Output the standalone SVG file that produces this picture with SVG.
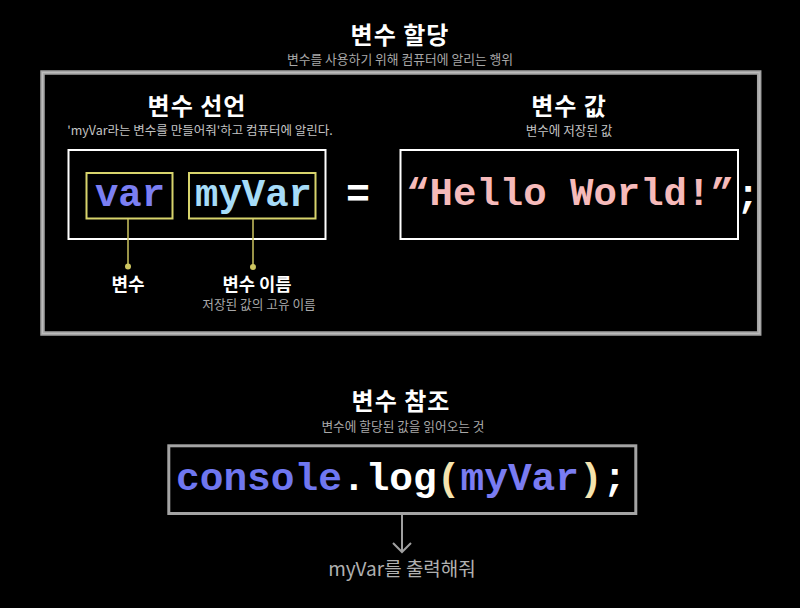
<svg xmlns="http://www.w3.org/2000/svg" width="800" height="608" viewBox="0 0 800 608">
<style>
.ttl{font-family:"Noto Sans CJK KR","Noto Sans",sans-serif;font-weight:700;fill:#ffffff;text-anchor:middle}
.big{font-size:24px;letter-spacing:1px}
.sub{font-family:"Noto Sans CJK KR","Noto Sans",sans-serif;font-weight:400;fill:#a8a8a8;text-anchor:middle}
.lite{fill:#c4c4c4}
.code{font-family:"Liberation Mono","DejaVu Sans Mono",monospace;font-weight:700}
.wbox{fill:none;stroke:#ffffff;stroke-width:2}
.ybox{fill:none;stroke:#d8d46c;stroke-width:2}
.gbox{fill:none;stroke:#a4a4a4}
.lead{stroke:#cdc560;stroke-width:1.5;fill:none}
</style>
<rect x="0" y="0" width="800" height="608" fill="#000000"/>

<g id="title-assign">
<text class="ttl big" x="400" y="44">변수 할당</text>
<text class="sub" x="400" y="64" font-size="12.8">변수를 사용하기 위해 컴퓨터에 알리는 행위</text>
</g>

<g id="frame-assign">
<rect class="gbox" x="42.5" y="72.5" width="716.7" height="261" stroke-width="4.5"/>
<rect x="42.5" y="72.5" width="716.7" height="261" fill="none" stroke="#bcbcbc" stroke-width="1.2"/>
</g>

<g id="declaration">
<text class="ttl big" x="197" y="115">변수 선언</text>
<text class="sub lite" x="200" y="135" font-size="12.5">'myVar라는 변수를 만들어줘'하고 컴퓨터에 알린다.</text>
<rect class="wbox" x="68.5" y="150" width="257" height="89"/>
</g>

<g id="kw-var">
<rect class="ybox" x="86.5" y="173" width="86" height="45.5"/>
<text class="code" x="130" y="206" font-size="39" fill="#7b7ff2" text-anchor="middle">var</text>
</g>

<g id="name-myVar">
<rect class="ybox" x="189" y="173" width="126.5" height="45.5"/>
<text class="code" x="253.5" y="206" font-size="39" fill="#a6dcf8" text-anchor="middle">myVar</text>
</g>

<g id="equals">
<text class="code" x="358" y="207" font-size="40" fill="#ffffff" text-anchor="middle">=</text>
</g>

<g id="value">
<text class="ttl big" x="569" y="115">변수 값</text>
<text class="sub lite" x="569" y="135" font-size="12.6">변수에 저장된 값</text>
<rect class="wbox" x="400.5" y="150" width="337.5" height="89"/>
<text class="code" x="570" y="205" font-size="39" fill="#f6baba" text-anchor="middle">“Hello World!”</text>
</g>

<g id="semicolon1">
<text class="code" x="748" y="207" font-size="39" fill="#ffffff" text-anchor="middle">;</text>
</g>

<g id="label-var">
<text class="ttl" x="128" y="291" font-size="18">변수</text>
</g>

<g id="label-name">
<text class="ttl" x="257" y="291" font-size="17.7">변수 이름</text>
<text class="sub" x="259" y="309" font-size="12.7">저장된 값의 고유 이름</text>
</g>

<g id="connectors">
<line class="lead" x1="128" y1="219" x2="128" y2="266"/>
<circle cx="128" cy="266.5" r="3" fill="#cdc560"/>
<line class="lead" x1="253" y1="219" x2="253" y2="266"/>
<circle cx="253" cy="267" r="3" fill="#cdc560"/>
<line x1="402" y1="515" x2="402" y2="552" stroke="#a0a0a0" stroke-width="2"/>
<polyline points="393,543 402,552 411,543" fill="none" stroke="#a0a0a0" stroke-width="2"/>
</g>

<g id="reference">
<text class="ttl big" x="401" y="410">변수 참조</text>
<text class="sub" x="403" y="431" font-size="12.7">변수에 할당된 값을 읽어오는 것</text>
<rect class="gbox" x="168.8" y="445.8" width="467" height="67.7" stroke-width="3"/>
<text class="code" x="176" y="490" font-size="39.5"><tspan fill="#6f77f0">console</tspan><tspan fill="#ffffff">.log</tspan><tspan fill="#f6e4ae">(</tspan><tspan fill="#7a7cf2">myVar</tspan><tspan fill="#f6e4ae">)</tspan><tspan fill="#ffffff">;</tspan></text>
</g>

<g id="output-label">
<text class="sub" x="402" y="576" font-size="19" style="fill:#b0b0b0">myVar를 출력해줘</text>
</g>
</svg>
